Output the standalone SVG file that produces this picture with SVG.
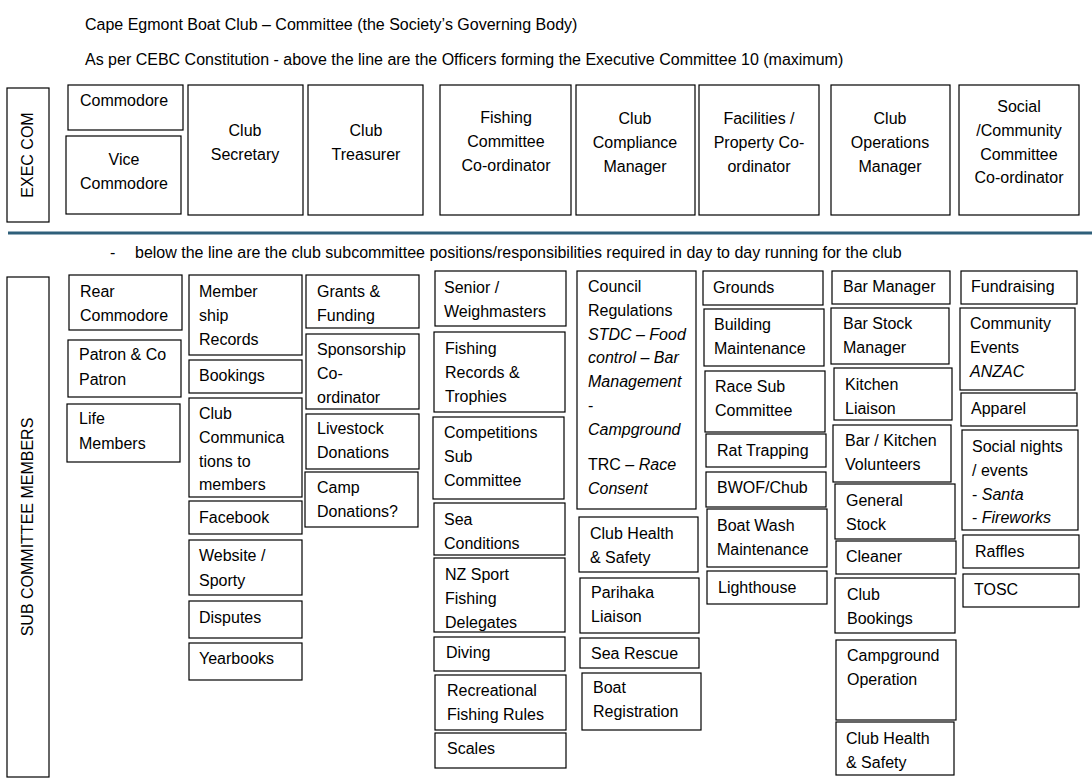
<svg xmlns="http://www.w3.org/2000/svg" width="1092" height="783" viewBox="0 0 1092 783">
<style>
rect{fill:#fff;stroke:#000;stroke-width:1.2}
text{font-family:"Liberation Sans",Arial,sans-serif;font-size:16px;fill:#000}
.c{text-anchor:middle}
.i{font-style:italic}
</style>
<rect x="0" y="0" width="1092" height="783" style="stroke:none"/>
<text x="85" y="30">Cape Egmont Boat Club – Committee (the Society’s Governing Body)</text>
<text x="85" y="65">As per CEBC Constitution - above the line are the Officers forming the Executive Committee 10 (maximum)</text>
<g id="execcom"><rect x="7" y="88" width="42" height="134"/><text class="c" transform="translate(33,155) rotate(-90)">EXEC COM</text></g>
<g id="connectors"><line x1="8" y1="233" x2="1092" y2="233" stroke="#2e5f7a" stroke-width="3"/></g>
<text x="110" y="258">-</text>
<text x="135" y="258">below the line are the club subcommittee positions/responsibilities required in day to day running for the club</text>
<g id="subcom"><rect x="7" y="277" width="42" height="500"/><text class="c" transform="translate(33,527) rotate(-90)">SUB COMMITTEE MEMBERS</text></g>

<g id="commodore"><rect x="68" y="85" width="115" height="45"/><text x="80" y="106">Commodore</text></g>
<g id="vice"><rect x="66" y="136" width="115" height="78"/><text class="c" x="124" y="165">Vice</text><text class="c" x="124" y="189">Commodore</text></g>
<g id="secretary"><rect x="188" y="85" width="115" height="130"/><text class="c" x="245" y="136">Club</text><text class="c" x="245" y="160">Secretary</text></g>
<g id="treasurer"><rect x="308" y="85" width="115" height="130"/><text class="c" x="366" y="136">Club</text><text class="c" x="366" y="160">Treasurer</text></g>
<g id="fishingcoord"><rect x="440" y="85" width="131" height="130"/><text class="c" x="506" y="123">Fishing</text><text class="c" x="506" y="147">Committee</text><text class="c" x="506" y="171">Co-ordinator</text></g>
<g id="compliance"><rect x="576" y="85" width="119" height="130"/><text class="c" x="635" y="124">Club</text><text class="c" x="635" y="148">Compliance</text><text class="c" x="635" y="172">Manager</text></g>
<g id="facilities"><rect x="699" y="85" width="120" height="130"/><text class="c" x="759" y="124">Facilities /</text><text class="c" x="759" y="148">Property Co-</text><text class="c" x="759" y="172">ordinator</text></g>
<g id="operations"><rect x="831" y="85" width="119" height="130"/><text class="c" x="890" y="124">Club</text><text class="c" x="890" y="148">Operations</text><text class="c" x="890" y="172">Manager</text></g>
<g id="social"><rect x="959" y="85" width="120" height="130"/><text class="c" x="1019" y="112">Social</text><text class="c" x="1019" y="136">/Community</text><text class="c" x="1019" y="160">Committee</text><text class="c" x="1019" y="183">Co-ordinator</text></g>

<g id="rear"><rect x="69" y="275" width="113" height="55"/><text x="80" y="297">Rear</text><text x="80" y="321">Commodore</text></g>
<g id="patron"><rect x="68" y="340" width="113" height="57"/><text x="79" y="360">Patron &amp; Co</text><text x="79" y="385">Patron</text></g>
<g id="life"><rect x="67" y="404" width="113" height="58"/><text x="79" y="424">Life</text><text x="79" y="449">Members</text></g>

<g id="membership"><rect x="189" y="275" width="113" height="80"/><text x="199" y="297">Member</text><text x="199" y="321">ship</text><text x="199" y="345">Records</text></g>
<g id="bookings"><rect x="189" y="360" width="113" height="33"/><text x="199" y="381">Bookings</text></g>
<g id="comms"><rect x="189" y="398" width="113" height="99"/><text x="199" y="419">Club</text><text x="199" y="443">Communica</text><text x="199" y="467">tions to</text><text x="199" y="490">members</text></g>
<g id="facebook"><rect x="189" y="501" width="113" height="33"/><text x="199" y="523">Facebook</text></g>
<g id="website"><rect x="189" y="540" width="113" height="55"/><text x="199" y="561">Website /</text><text x="199" y="586">Sporty</text></g>
<g id="disputes"><rect x="189" y="601" width="113" height="37"/><text x="199" y="623">Disputes</text></g>
<g id="yearbooks"><rect x="189" y="643" width="113" height="37"/><text x="199" y="664">Yearbooks</text></g>

<g id="grants"><rect x="306" y="275" width="113" height="53"/><text x="317" y="297">Grants &amp;</text><text x="317" y="321">Funding</text></g>
<g id="sponsorship"><rect x="306" y="334" width="113" height="75"/><text x="317" y="355">Sponsorship</text><text x="317" y="379">Co-</text><text x="317" y="403">ordinator</text></g>
<g id="livestock"><rect x="306" y="414" width="113" height="55"/><text x="317" y="434">Livestock</text><text x="317" y="458">Donations</text></g>
<g id="camp"><rect x="305" y="472" width="113" height="55"/><text x="317" y="493">Camp</text><text x="317" y="517">Donations?</text></g>

<g id="senior"><rect x="435" y="271" width="131" height="55"/><text x="444" y="293">Senior /</text><text x="444" y="317">Weighmasters</text></g>
<g id="records"><rect x="434" y="332" width="131" height="80"/><text x="445" y="354">Fishing</text><text x="445" y="378">Records &amp;</text><text x="445" y="402">Trophies</text></g>
<g id="competitions"><rect x="433" y="417" width="131" height="82"/><text x="444" y="438">Competitions</text><text x="444" y="462">Sub</text><text x="444" y="486">Committee</text></g>
<g id="sea"><rect x="434" y="503" width="131" height="52"/><text x="444" y="525">Sea</text><text x="444" y="549">Conditions</text></g>
<g id="nzsport"><rect x="434" y="558" width="131" height="74"/><text x="445" y="580">NZ Sport</text><text x="445" y="604">Fishing</text><text x="445" y="628">Delegates</text></g>
<g id="diving"><rect x="434" y="637" width="131" height="34"/><text x="446" y="658">Diving</text></g>
<g id="recreational"><rect x="435" y="675" width="131" height="55"/><text x="447" y="696">Recreational</text><text x="447" y="720">Fishing Rules</text></g>
<g id="scales"><rect x="435" y="733" width="131" height="35"/><text x="447" y="754">Scales</text></g>

<g id="council"><rect x="577" y="271" width="119" height="238"/><text x="588" y="292">Council</text><text x="588" y="316">Regulations</text><text class="i" x="588" y="340">STDC – Food</text><text class="i" x="588" y="363">control – Bar</text><text class="i" x="588" y="387">Management</text><text x="588" y="411">-</text><text class="i" x="588" y="435">Campground</text><text class="i" x="588" y="470"><tspan font-style="normal">TRC</tspan> – Race</text><text class="i" x="588" y="494">Consent</text></g>
<g id="health1"><rect x="579" y="517" width="119" height="55"/><text x="590" y="539">Club Health</text><text x="590" y="563">&amp; Safety</text></g>
<g id="parihaka"><rect x="580" y="578" width="119" height="55"/><text x="591" y="598">Parihaka</text><text x="591" y="622">Liaison</text></g>
<g id="searescue"><rect x="580" y="638" width="119" height="30"/><text x="591" y="659">Sea Rescue</text></g>
<g id="boatreg"><rect x="582" y="673" width="119" height="57"/><text x="593" y="693">Boat</text><text x="593" y="717">Registration</text></g>

<g id="grounds"><rect x="703" y="271" width="120" height="34"/><text x="713" y="293">Grounds</text></g>
<g id="building"><rect x="704" y="309" width="120" height="57"/><text x="714" y="330">Building</text><text x="714" y="354">Maintenance</text></g>
<g id="race"><rect x="705" y="371" width="120" height="61"/><text x="715" y="392">Race Sub</text><text x="715" y="416">Committee</text></g>
<g id="rat"><rect x="706" y="434" width="120" height="33"/><text x="717" y="456">Rat Trapping</text></g>
<g id="bwof"><rect x="706" y="472" width="120" height="35"/><text x="717" y="493">BWOF/Chub</text></g>
<g id="boatwash"><rect x="707" y="509" width="120" height="58"/><text x="717" y="531">Boat Wash</text><text x="717" y="555">Maintenance</text></g>
<g id="lighthouse"><rect x="707" y="571" width="120" height="33"/><text x="718" y="593">Lighthouse</text></g>

<g id="barmanager"><rect x="832" y="271" width="118" height="33"/><text x="843" y="292">Bar Manager</text></g>
<g id="barstock"><rect x="831" y="308" width="118" height="56"/><text x="843" y="329">Bar Stock</text><text x="843" y="353">Manager</text></g>
<g id="kitchen"><rect x="834" y="368" width="118" height="52"/><text x="845" y="390">Kitchen</text><text x="845" y="414">Liaison</text></g>
<g id="volunteers"><rect x="833" y="425" width="118" height="57"/><text x="845" y="446">Bar / Kitchen</text><text x="845" y="470">Volunteers</text></g>
<g id="general"><rect x="835" y="484" width="120" height="55"/><text x="846" y="506">General</text><text x="846" y="530">Stock</text></g>
<g id="cleaner"><rect x="836" y="541" width="120" height="33"/><text x="846" y="562">Cleaner</text></g>
<g id="clubbookings"><rect x="835" y="578" width="120" height="55"/><text x="847" y="600">Club</text><text x="847" y="624">Bookings</text></g>
<g id="campground"><rect x="836" y="640" width="120" height="80"/><text x="847" y="661">Campground</text><text x="847" y="685">Operation</text></g>
<g id="health2"><rect x="836" y="722" width="118" height="53"/><text x="846" y="744">Club Health</text><text x="846" y="768">&amp; Safety</text></g>

<g id="fundraising"><rect x="961" y="271" width="116" height="33"/><text x="971" y="292">Fundraising</text></g>
<g id="community"><rect x="960" y="308" width="115" height="82"/><text x="970" y="329">Community</text><text x="970" y="353">Events</text><text class="i" x="970" y="377">ANZAC</text></g>
<g id="apparel"><rect x="961" y="393" width="116" height="33"/><text x="971" y="414">Apparel</text></g>
<g id="socialnights"><rect x="962" y="430" width="116" height="100"/><text x="972" y="452">Social nights</text><text x="972" y="476">/ events</text><text x="972" y="500">- <tspan class="i">Santa</tspan></text><text x="972" y="523">- <tspan class="i">Fireworks</tspan></text></g>
<g id="raffles"><rect x="963" y="535" width="116" height="33"/><text x="975" y="557">Raffles</text></g>
<g id="tosc"><rect x="963" y="574" width="116" height="33"/><text x="974" y="595">TOSC</text></g>
</svg>
